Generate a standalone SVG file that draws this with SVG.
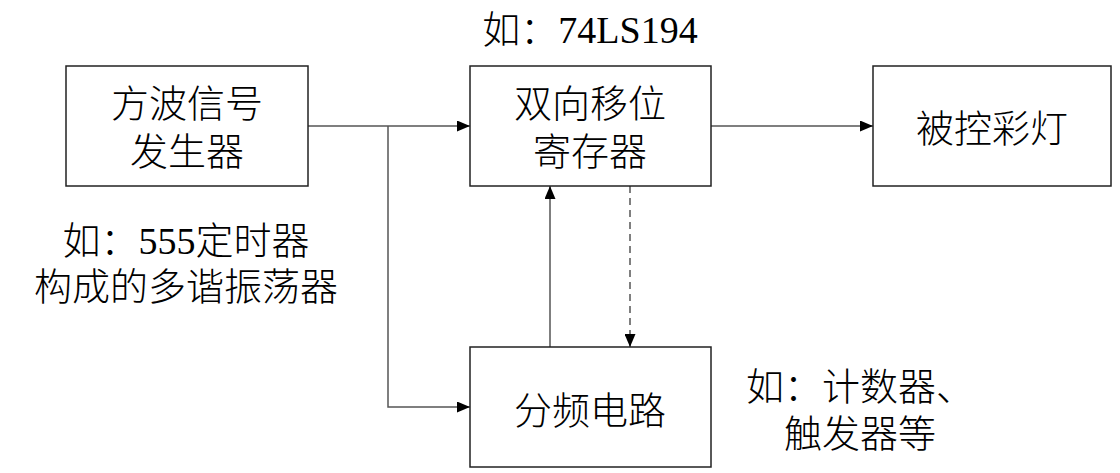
<svg xmlns="http://www.w3.org/2000/svg" width="1120" height="473" viewBox="0 0 1120 473">
<style>
.box{fill:#fff;stroke:#222;stroke-width:1.5}
.t{font-family:"Liberation Serif","Noto Sans CJK SC",serif;font-size:38px;font-weight:300;fill:#000;text-anchor:middle}
.ln{fill:none;stroke:#555;stroke-width:1.5}
.dash{stroke-dasharray:7,5}
</style>
<defs>
<marker id="arr" markerWidth="13" markerHeight="11" refX="13" refY="5.5" orient="auto" markerUnits="userSpaceOnUse">
<path d="M0,0 L13,5.5 L0,11 Z" fill="#000"/>
</marker>
</defs>
<g id="connectors">
<path class="ln" d="M308,126 H470" marker-end="url(#arr)"/>
<path class="ln" d="M388,126 V407 H470" marker-end="url(#arr)"/>
<path class="ln" d="M711,126 H873" marker-end="url(#arr)"/>
<path class="ln" d="M550,347 V186" marker-end="url(#arr)"/>
<path class="ln dash" d="M630,186 V347" marker-end="url(#arr)"/>
</g>
<g id="square-wave">
<rect class="box" x="66" y="66" width="242" height="120"/>
<text class="t" x="187" y="117">方波信号</text>
<text class="t" x="187" y="165">发生器</text>
</g>
<g id="shift-register">
<rect class="box" x="470" y="66" width="241" height="120"/>
<text class="t" x="590" y="117">双向移位</text>
<text class="t" x="590" y="165">寄存器</text>
</g>
<g id="lamps">
<rect class="box" x="873" y="66" width="238" height="120"/>
<text class="t" x="992" y="142">被控彩灯</text>
</g>
<g id="divider">
<rect class="box" x="470" y="347" width="241" height="120"/>
<text class="t" x="590" y="424">分频电路</text>
</g>
<g id="labels">
<text class="t" x="590" y="43">如：74LS194</text>
<text class="t" x="186" y="254">如：555定时器</text>
<text class="t" x="186" y="300">构成的多谐振荡器</text>
<text class="t" x="860" y="400">如：计数器、</text>
<text class="t" x="860" y="447">触发器等</text>
</g>
</svg>
